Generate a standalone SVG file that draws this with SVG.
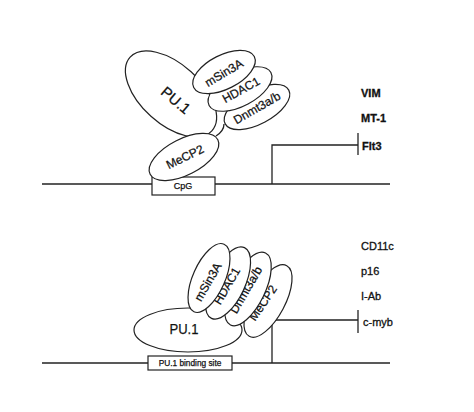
<svg xmlns="http://www.w3.org/2000/svg" width="474" height="412" viewBox="0 0 474 412">
<style>
.s{fill:#fff;stroke:#222;stroke-width:1.2}
.l{fill:none;stroke:#222;stroke-width:1.3}
.t{font-family:"Liberation Sans",Arial,sans-serif;fill:#111;stroke:#111;stroke-width:0.25;text-anchor:middle;dominant-baseline:central}
.g{font-family:"Liberation Sans",Arial,sans-serif;fill:#111;font-size:11px;stroke:#111;stroke-width:0.3}
</style>
<rect width="474" height="412" fill="#fff"/>
<g id="connectors">
<line class="l" x1="42" y1="184" x2="390" y2="184"/>
<polyline class="l" points="272,184 272,145 358,145"/>
<line class="l" x1="358" y1="133" x2="358" y2="155"/>
<line class="l" x1="42" y1="363" x2="390" y2="363"/>
<polyline class="l" points="272,363 272,320 358,320"/>
<line class="l" x1="358" y1="310" x2="358" y2="333"/>
<path class="l" d="M216,136 Q224,131 224,124"/>
</g>
<g id="cpg"><rect class="s" x="152" y="177" width="63" height="18"/><text class="t" x="183" y="186" font-size="9">CpG</text></g>
<g id="pu1-top"><ellipse class="s" cx="171" cy="94" rx="55" ry="30" transform="rotate(42 171 94)"/><text class="t" x="176" y="100" font-size="15" transform="rotate(40 176 100)">PU.1</text></g>
<g id="dnmt-top"><ellipse class="s" cx="257" cy="107" rx="36" ry="17" transform="rotate(-28 257 107)"/><text class="t" x="257" y="108" font-size="12" transform="rotate(-30 257 108)">Dnmt3a/b</text></g>
<g id="hdac1-top"><ellipse class="s" cx="240" cy="89" rx="35" ry="17" transform="rotate(-28 240 89)"/><text class="t" x="241" y="90" font-size="12" transform="rotate(-29 241 90)">HDAC1</text></g>
<g id="msin3a-top"><ellipse class="s" cx="224" cy="72" rx="34" ry="17" transform="rotate(-27 224 72)"/><text class="t" x="224" y="73" font-size="12" transform="rotate(-31 224 73)">mSin3A</text></g>
<g id="mecp2-top"><ellipse class="s" cx="184" cy="157" rx="38" ry="18" transform="rotate(-27 184 157)"/><text class="t" x="185" y="157" font-size="12" transform="rotate(-26 185 157)">MeCP2</text></g>
<g id="genes-top"><text class="g" x="361" y="97" font-weight="bold">VIM</text><text class="g" x="361" y="122" font-weight="bold">MT-1</text><text class="g" x="362" y="150" font-weight="bold">Flt3</text></g>
<g id="pu1-site"><rect class="s" x="148" y="356" width="84" height="14"/><text class="t" x="190" y="363" font-size="8.3">PU.1 binding site</text></g>
<g id="pu1-bottom"><ellipse class="s" cx="188" cy="330" rx="54" ry="22"/><text class="t" x="184" y="328" font-size="15" textLength="29" lengthAdjust="spacingAndGlyphs">PU.1</text></g>
<g id="mecp2-bottom"><ellipse class="s" cx="268" cy="301" rx="40" ry="17" transform="rotate(-62 268 301)"/><text class="t" x="263" y="303" font-size="12" transform="rotate(-56 263 303)">MeCP2</text></g>
<g id="dnmt-bottom"><ellipse class="s" cx="248" cy="289" rx="40" ry="17" transform="rotate(-64 248 289)"/><text class="t" x="246" y="290" font-size="12" transform="rotate(-60 246 290)">Dnmt3a/b</text></g>
<g id="hdac1-bottom"><ellipse class="s" cx="228" cy="283" rx="39" ry="17" transform="rotate(-65 228 283)"/><text class="t" x="227" y="286" font-size="12" transform="rotate(-60 227 286)">HDAC1</text></g>
<g id="msin3a-bottom"><ellipse class="s" cx="209" cy="278" rx="37" ry="16" transform="rotate(-66 209 278)"/><text class="t" x="208" y="282" font-size="12" transform="rotate(-60 208 282)">mSin3A</text></g>
<g id="genes-bottom"><text class="g" x="361" y="250">CD11c</text><text class="g" x="361" y="275">p16</text><text class="g" x="361" y="300">I-Ab</text><text class="g" x="363" y="326">c-myb</text></g>
</svg>
